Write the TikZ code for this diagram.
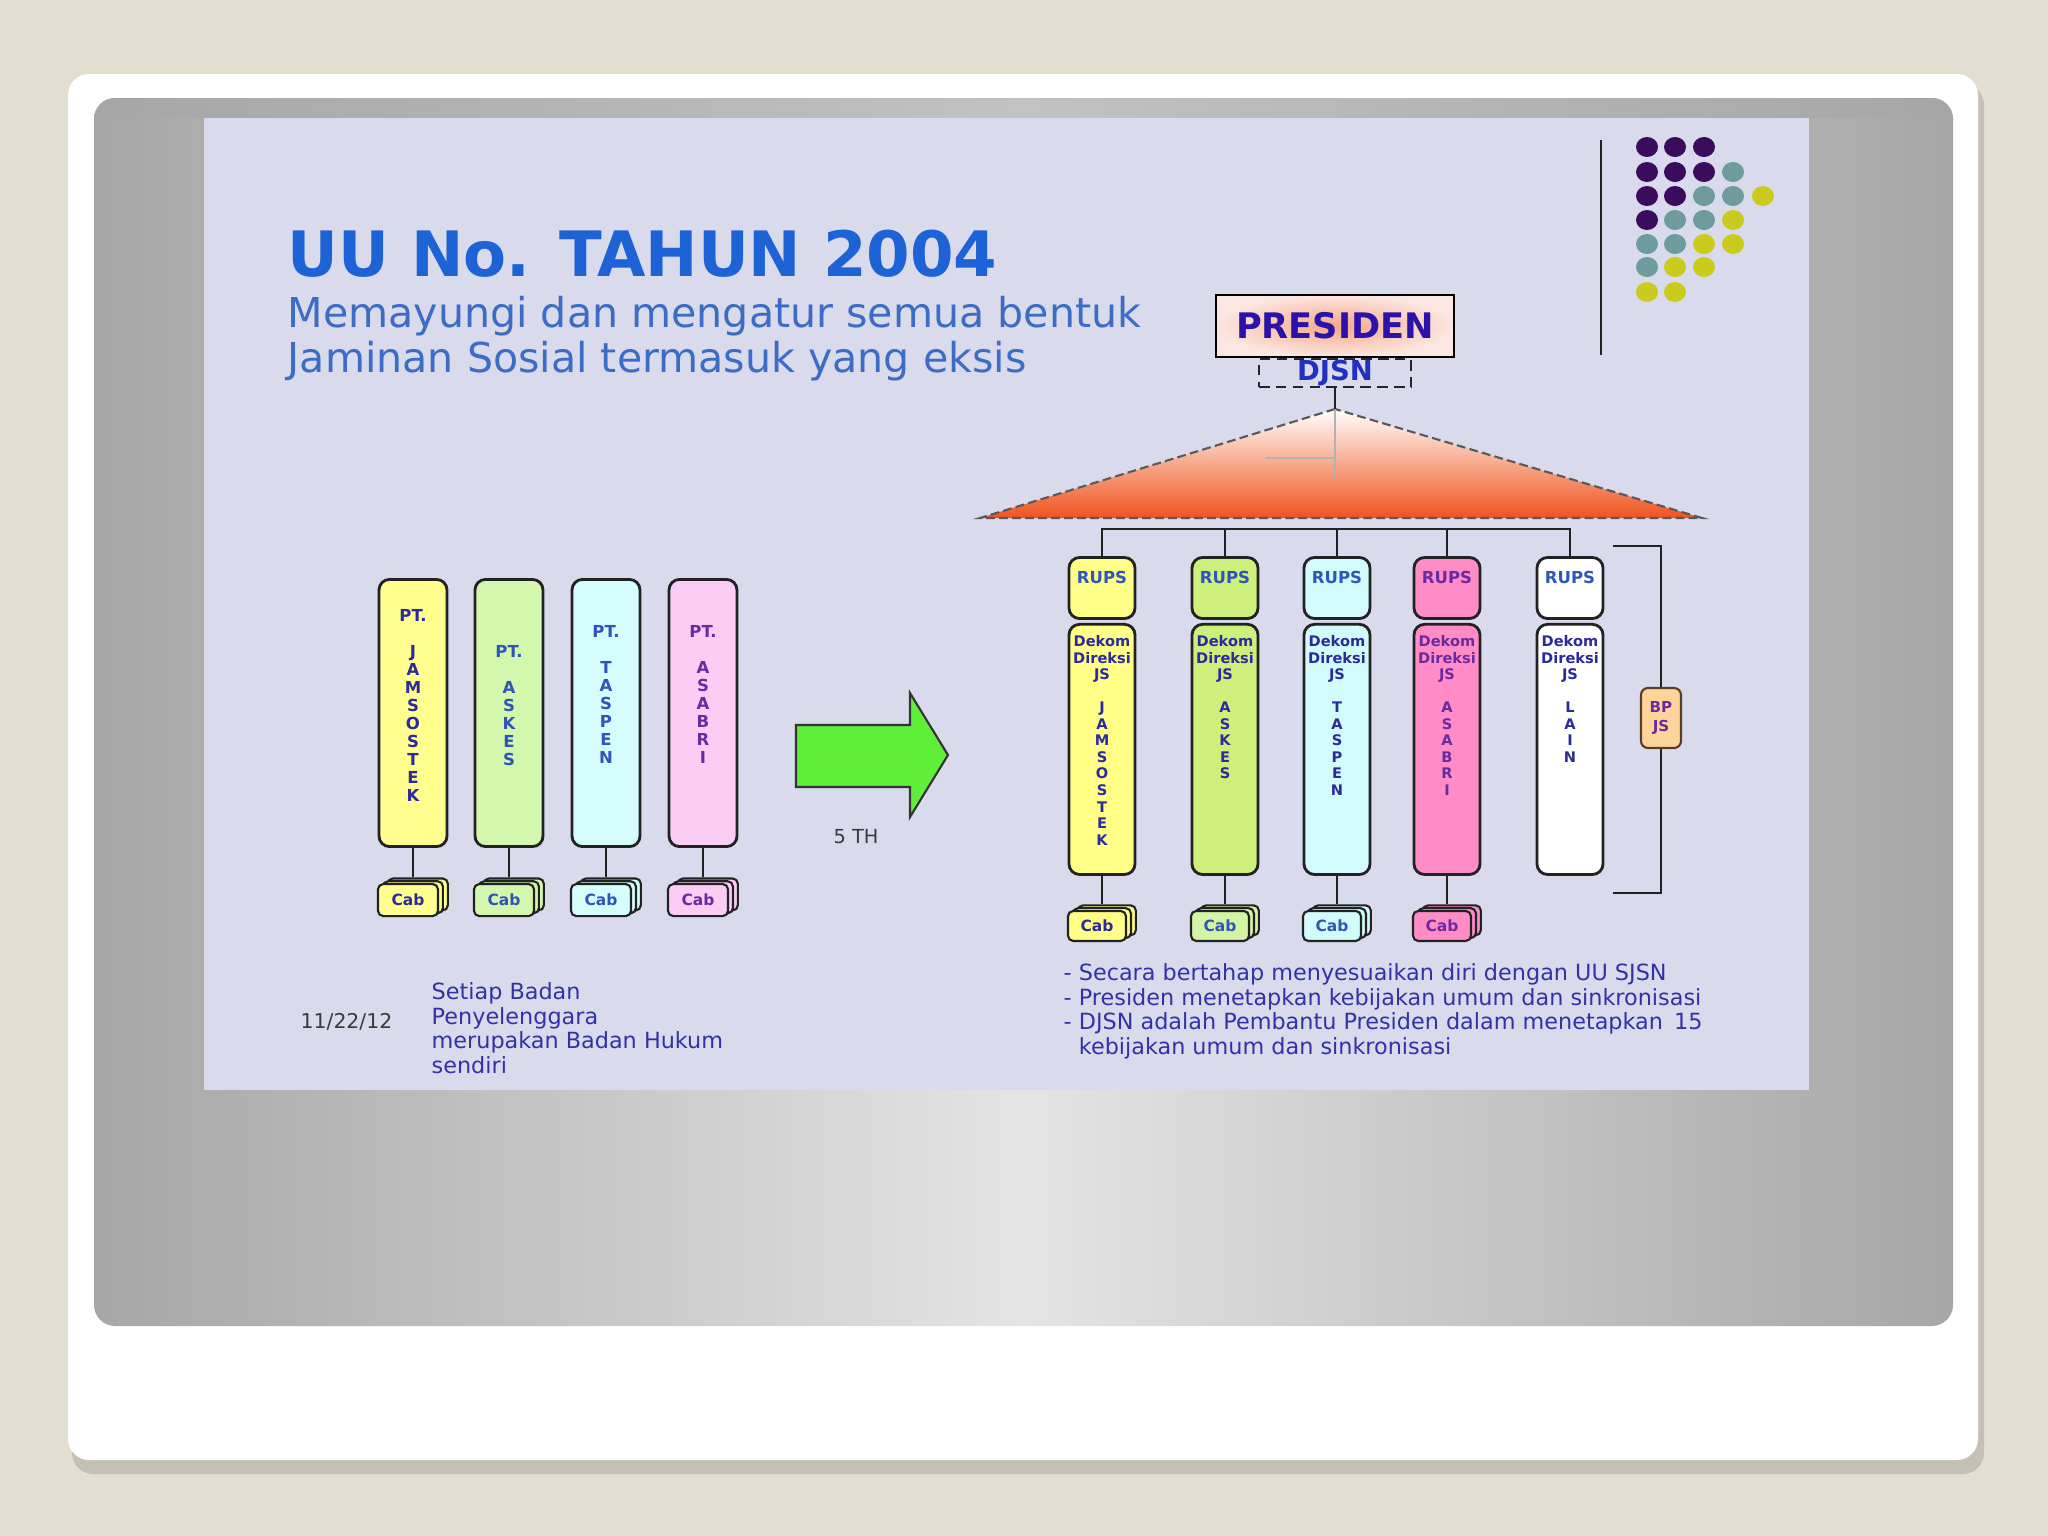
\documentclass[tikz,border=0pt]{standalone}
\usepackage{fontspec}
\setmainfont{DejaVu Sans}
\usetikzlibrary{positioning,shadows,calc}
\definecolor{beige}{HTML}{E2DFD1}
\definecolor{cardshadow}{HTML}{C4C1B4}
\definecolor{panelgray}{HTML}{A6A6A6}
\definecolor{panellight}{HTML}{E4E4E4}
\definecolor{paneltop}{HTML}{C2C2C2}
\definecolor{slidebg}{HTML}{D9DBEC}
\definecolor{titleblue}{HTML}{1E63D6}
\definecolor{subblue}{HTML}{3D6CC6}
\definecolor{navy}{HTML}{2B2B9C}
\definecolor{ptblue}{HTML}{2F55B8}
\definecolor{plum}{HTML}{6B2BA0}
\definecolor{presblue}{HTML}{2A12AA}
\definecolor{presglow}{HTML}{F4A888}
\definecolor{presedge}{HTML}{FCE6E0}
\definecolor{djsnblue}{HTML}{2030C0}
\definecolor{roofred}{HTML}{F0531F}
\definecolor{roofmid}{HTML}{F7A98C}
\definecolor{linegray}{HTML}{222222}
\definecolor{yelL}{HTML}{FFFF90}
\definecolor{grnL}{HTML}{D4F7AE}
\definecolor{cyaL}{HTML}{D6FDFD}
\definecolor{pnkL}{HTML}{FBCDF5}
\definecolor{yelR}{HTML}{FFFF88}
\definecolor{grnR}{HTML}{CDF07C}
\definecolor{cabgrn}{HTML}{D3F3A5}
\definecolor{cyaR}{HTML}{D2FBFB}
\definecolor{pnkR}{HTML}{FF8CC6}
\definecolor{arrowgreen}{HTML}{5FEF3A}
\definecolor{bpjsorange}{HTML}{FFD49A}
\definecolor{bpjsedge}{HTML}{5A3C28}
\definecolor{dotpurple}{HTML}{3B0B5E}
\definecolor{dotteal}{HTML}{6E9C9C}
\definecolor{dotyellow}{HTML}{C9CC1E}
\definecolor{datetext}{HTML}{3A3A3A}
\definecolor{notetext}{HTML}{3232A6}

\begin{document}
\begin{tikzpicture}[x=0.01cm,y=-0.01cm,
          conn/.style={line width=0.6pt,draw=linegray},
          ptbox/.style={
            draw=linegray,
            line width=0.8pt,
            rounded corners=3pt,
            minimum width=0.68cm,
            minimum height=2.67cm,
            inner sep=0pt
          },
          rupsbox/.style={
            draw=linegray,
            line width=0.8pt,
            rounded corners=3pt,
            minimum width=0.66cm,
            minimum height=0.61cm,
            inner sep=0pt,
            text height=3.4pt,
            text depth=5.8pt,
            font=\fontsize{4.7}{5}\selectfont\bfseries,
            text=ptblue
          },
          jsbox/.style={
            draw=linegray,
            line width=0.8pt,
            rounded corners=3pt,
            minimum width=0.66cm,
            minimum height=2.5cm,
            inner sep=0pt
          },
          vtext/.style={align=center,inner sep=0pt,text=navy,font=\fontsize{4.15}{4.7}\selectfont\bfseries},
          ptext/.style={vtext,font=\fontsize{4.7}{5.1}\selectfont\bfseries},
          cabbox/.style={
            draw=linegray,
            line width=0.6pt,
            rounded corners=1.5pt,
            minimum width=0.58cm,
            minimum height=0.3cm,
            inner sep=0pt,
            text=ptblue,
            font=\fontsize{4.4}{5}\selectfont\bfseries
          },
          cabstack/.style={double copy shadow={shadow xshift=1.4pt,shadow yshift=0.8pt}},
          presbox/.style={
            draw=black,
            line width=0.7pt,
            inner color=presglow,
            outer color=presedge,
            minimum width=2.38cm,
            minimum height=0.62cm,
            font=\fontsize{10}{12}\selectfont\bfseries,
            text=presblue
          },
          djsnbox/.style={
            draw=black!85,
            line width=0.6pt,
            dash pattern=on 3pt off 1.8pt,
            minimum width=1.52cm,
            minimum height=0.28cm,
            inner sep=0pt,
            font=\fontsize{7.8}{9}\selectfont\bfseries,
            text=djsnblue
          },
          bpjsbox/.style={
            draw=bpjsedge,
            line width=0.6pt,
            fill=bpjsorange,
            rounded corners=2pt,
            minimum width=0.4cm,
            minimum height=0.6cm,
            inner sep=0pt,
            align=center,
            text=plum,
            font=\fontsize{4.3}{5.2}\selectfont\bfseries
          },
          bigarrow/.style={fill=arrowgreen,draw=black!80,line width=0.6pt,line join=miter},
          roof/.style={top color=white,bottom color=roofred,middle color=roofmid,draw=black!65,line width=0.6pt,dash pattern=on 2.5pt off 1.2pt},
          faint/.style={draw=black!30,line width=0.3pt},
          notes/.style={align=left,inner sep=0pt,anchor=north west,text=notetext,font=\fontsize{6.35}{7}\selectfont}
        ]
        \useasboundingbox (0,0) rectangle (2048,1536);
        \fill[beige] (0,0) rectangle (2048,1536);
        \fill[cardshadow,rounded corners=6pt] (72,84) rectangle (1984,1474);
        \fill[white,rounded corners=6pt] (68,74) rectangle (1978,1460);
        \shade[left color=panelgray,right color=panelgray,middle color=panellight,rounded corners=6pt] (94,98) rectangle (1953,1326);
        \shade[left color=panelgray,right color=panelgray,middle color=paneltop] (94,118) [rounded corners=6pt] -- (94,98) -- (1953,98) [sharp corners] -- (1953,118) -- cycle;
        \fill[slidebg] (204,118) rectangle (1809,1090);

        \node[anchor=base west,inner sep=0pt,text=titleblue,font=\fontsize{17.8}{22}\selectfont\bfseries] (judul) at (287,276) {UU No. TAHUN 2004};
        \node[anchor=north west,inner sep=0pt,align=left,text=subblue,font=\fontsize{11.7}{12.8}\selectfont] (subjudul) at (287,296) {Memayungi dan mengatur semua bentuk\\Jaminan Sosial termasuk yang eksis};

        \draw[conn] (1601,140) -- (1601,355);
        \fill[dotpurple] (1647,147) ellipse[x radius=0.11cm,y radius=0.1cm] (1675,147) ellipse[x radius=0.11cm,y radius=0.1cm] (1704,147) ellipse[x radius=0.11cm,y radius=0.1cm]
          (1647,172) ellipse[x radius=0.11cm,y radius=0.1cm] (1675,172) ellipse[x radius=0.11cm,y radius=0.1cm] (1704,172) ellipse[x radius=0.11cm,y radius=0.1cm]
          (1647,196) ellipse[x radius=0.11cm,y radius=0.1cm] (1675,196) ellipse[x radius=0.11cm,y radius=0.1cm] (1647,220) ellipse[x radius=0.11cm,y radius=0.1cm];
        \fill[dotteal] (1733,172) ellipse[x radius=0.11cm,y radius=0.1cm] (1704,196) ellipse[x radius=0.11cm,y radius=0.1cm] (1733,196) ellipse[x radius=0.11cm,y radius=0.1cm]
          (1675,220) ellipse[x radius=0.11cm,y radius=0.1cm] (1704,220) ellipse[x radius=0.11cm,y radius=0.1cm] (1647,244) ellipse[x radius=0.11cm,y radius=0.1cm]
          (1675,244) ellipse[x radius=0.11cm,y radius=0.1cm] (1647,267) ellipse[x radius=0.11cm,y radius=0.1cm];
        \fill[dotyellow] (1763,196) ellipse[x radius=0.11cm,y radius=0.1cm] (1733,220) ellipse[x radius=0.11cm,y radius=0.1cm] (1704,244) ellipse[x radius=0.11cm,y radius=0.1cm]
          (1733,244) ellipse[x radius=0.11cm,y radius=0.1cm] (1675,267) ellipse[x radius=0.11cm,y radius=0.1cm] (1704,267) ellipse[x radius=0.11cm,y radius=0.1cm]
          (1647,292) ellipse[x radius=0.11cm,y radius=0.1cm] (1675,292) ellipse[x radius=0.11cm,y radius=0.1cm];

        \node[presbox] (pres) at (1335,326) {PRESIDEN};
        \node[djsnbox,below=0pt of pres] (djsn) {DJSN};
        \coordinate (apex) at (1335,409);
        \coordinate (roofL) at (980,518);
        \coordinate (roofR) at (1702,518);
        \draw[roof] (apex) -- (roofL) -- (roofR) -- cycle;
        \draw[faint] (apex) -- (1335,478);
        \draw[faint] (1265,458) -- (1335,458);
        \draw[conn] (djsn) -- (apex);

        \node[ptbox,fill=yelL] (ptjam) at (413,713) {};
        \node[ptbox,fill=grnL] (ptaskes) at (509,713) {};
        \node[ptbox,fill=cyaL] (pttaspen) at (606,713) {};
        \node[ptbox,fill=pnkL] (ptasabri) at (703,713) {};
        \node[ptext,below=0.31cm of ptjam.north] (ptjamtxt) {PT.\\[5.1pt]J\\A\\M\\S\\O\\S\\T\\E\\K};
        \node[ptext,text=ptblue,below=0.67cm of ptaskes.north] (ptaskestxt) {PT.\\[5.1pt]A\\S\\K\\E\\S};
        \node[ptext,text=ptblue,below=0.47cm of pttaspen.north] (pttaspentxt) {PT.\\[5.1pt]T\\A\\S\\P\\E\\N};
        \node[ptext,text=plum,below=0.47cm of ptasabri.north] (ptasabritxt) {PT.\\[5.1pt]A\\S\\A\\B\\R\\I};
        \node[cabbox,minimum width=0.6cm,minimum height=0.32cm,text=navy,fill=yelL,cabstack,below=0.35cm of ptjam,xshift=-0.05cm] (cabjam) {Cab};
        \node[cabbox,minimum width=0.6cm,minimum height=0.32cm,fill=grnL,cabstack,below=0.35cm of ptaskes,xshift=-0.05cm] (cabaskes) {Cab};
        \node[cabbox,minimum width=0.6cm,minimum height=0.32cm,fill=cyaL,cabstack,below=0.35cm of pttaspen,xshift=-0.05cm] (cabtaspen) {Cab};
        \node[cabbox,minimum width=0.6cm,minimum height=0.32cm,text=plum,fill=pnkL,cabstack,below=0.35cm of ptasabri,xshift=-0.05cm] (cabasabri) {Cab};
        \draw[conn] (ptjam) -- ($(ptjam.south |- cabjam.north)+(0,-5.6)$);
        \draw[conn] (ptaskes) -- ($(ptaskes.south |- cabaskes.north)+(0,-5.6)$);
        \draw[conn] (pttaspen) -- ($(pttaspen.south |- cabtaspen.north)+(0,-5.6)$);
        \draw[conn] (ptasabri) -- ($(ptasabri.south |- cabasabri.north)+(0,-5.6)$);

        \draw[bigarrow] (796,725) -- (910,725) -- (910,693) -- (948,755) -- (910,817) -- (910,787) -- (796,787) -- cycle;
        \node[inner sep=0pt,text=datetext,font=\fontsize{5.5}{6}\selectfont] (limath) at (856,837) {5 TH};

        \node[rupsbox,fill=yelR] (rupsjam) at (1102,588) {RUPS};
        \node[rupsbox,fill=grnR] (rupsaskes) at (1225,588) {RUPS};
        \node[rupsbox,fill=cyaR] (rupstaspen) at (1337,588) {RUPS};
        \node[rupsbox,fill=pnkR,text=plum] (rupsasabri) at (1447,588) {RUPS};
        \node[rupsbox,fill=white] (rupslain) at (1570,588) {RUPS};
        \coordinate (bus) at (0,529);
        \draw[conn] (rupsjam) -- (rupsjam.north |- bus) -- (rupslain.north |- bus) -- (rupslain);
        \draw[conn] (rupsaskes) -- (rupsaskes.north |- bus);
        \draw[conn] (rupstaspen) -- (rupstaspen.north |- bus);
        \draw[conn] (rupsasabri) -- (rupsasabri.north |- bus);

        \node[jsbox,fill=yelR,below=0.03cm of rupsjam] (jsjam) {};
        \node[jsbox,fill=grnR,below=0.03cm of rupsaskes] (jsaskes) {};
        \node[jsbox,fill=cyaR,below=0.03cm of rupstaspen] (jstaspen) {};
        \node[jsbox,fill=pnkR,below=0.03cm of rupsasabri] (jsasabri) {};
        \node[jsbox,fill=white,below=0.03cm of rupslain] (jslain) {};
        \node[vtext,below=0.12cm of jsjam.north] (jsjamtxt) {Dekom\\Direksi\\JS\\[4.7pt]J\\A\\M\\S\\O\\S\\T\\E\\K};
        \node[vtext,below=0.12cm of jsaskes.north] (jsaskestxt) {Dekom\\Direksi\\JS\\[4.7pt]A\\S\\K\\E\\S};
        \node[vtext,below=0.12cm of jstaspen.north] (jstaspentxt) {Dekom\\Direksi\\JS\\[4.7pt]T\\A\\S\\P\\E\\N};
        \node[vtext,text=plum,below=0.12cm of jsasabri.north] (jsasabritxt) {Dekom\\Direksi\\JS\\[4.7pt]A\\S\\A\\B\\R\\I};
        \node[vtext,below=0.12cm of jslain.north] (jslaintxt) {Dekom\\Direksi\\JS\\[4.7pt]L\\A\\I\\N};
        \node[cabbox,fill=yelR,text=navy,cabstack,below=0.34cm of jsjam,xshift=-0.05cm] (cabjamR) {Cab};
        \node[cabbox,fill=cabgrn,cabstack,below=0.34cm of jsaskes,xshift=-0.05cm] (cabaskesR) {Cab};
        \node[cabbox,fill=cyaR,cabstack,below=0.34cm of jstaspen,xshift=-0.05cm] (cabtaspenR) {Cab};
        \node[cabbox,fill=pnkR,text=plum,cabstack,below=0.34cm of jsasabri,xshift=-0.05cm] (cabasabriR) {Cab};
        \draw[conn] (jsjam) -- ($(jsjam.south |- cabjamR.north)+(0,-5.6)$);
        \draw[conn] (jsaskes) -- ($(jsaskes.south |- cabaskesR.north)+(0,-5.6)$);
        \draw[conn] (jstaspen) -- ($(jstaspen.south |- cabtaspenR.north)+(0,-5.6)$);
        \draw[conn] (jsasabri) -- ($(jsasabri.south |- cabasabriR.north)+(0,-5.6)$);

        \coordinate (brtop) at (1613,546);
        \coordinate (brbot) at (1613,893);
        \node[bpjsbox] (bpjs) at (1661,718) {BP\\JS};
        \draw[conn] (bpjs) |- (brtop);
        \draw[conn] (bpjs) |- (brbot);

        \node[anchor=base west,inner sep=0pt,text=datetext,font=\fontsize{5.8}{7}\selectfont] (tanggal) at (300,1028) {11/22/12};
        \node[notes] (setiap) at (431,982) {Setiap Badan\\Penyelenggara\\merupakan Badan Hukum\\sendiri};
        \node[notes] (catatan) at (1063,963) {- Secara bertahap menyesuaikan diri dengan UU SJSN\\- Presiden menetapkan kebijakan umum dan sinkronisasi\\- DJSN adalah Pembantu Presiden dalam menetapkan\enspace 15\\\phantom{- }kebijakan umum dan sinkronisasi};
      \end{tikzpicture}
\end{document}
